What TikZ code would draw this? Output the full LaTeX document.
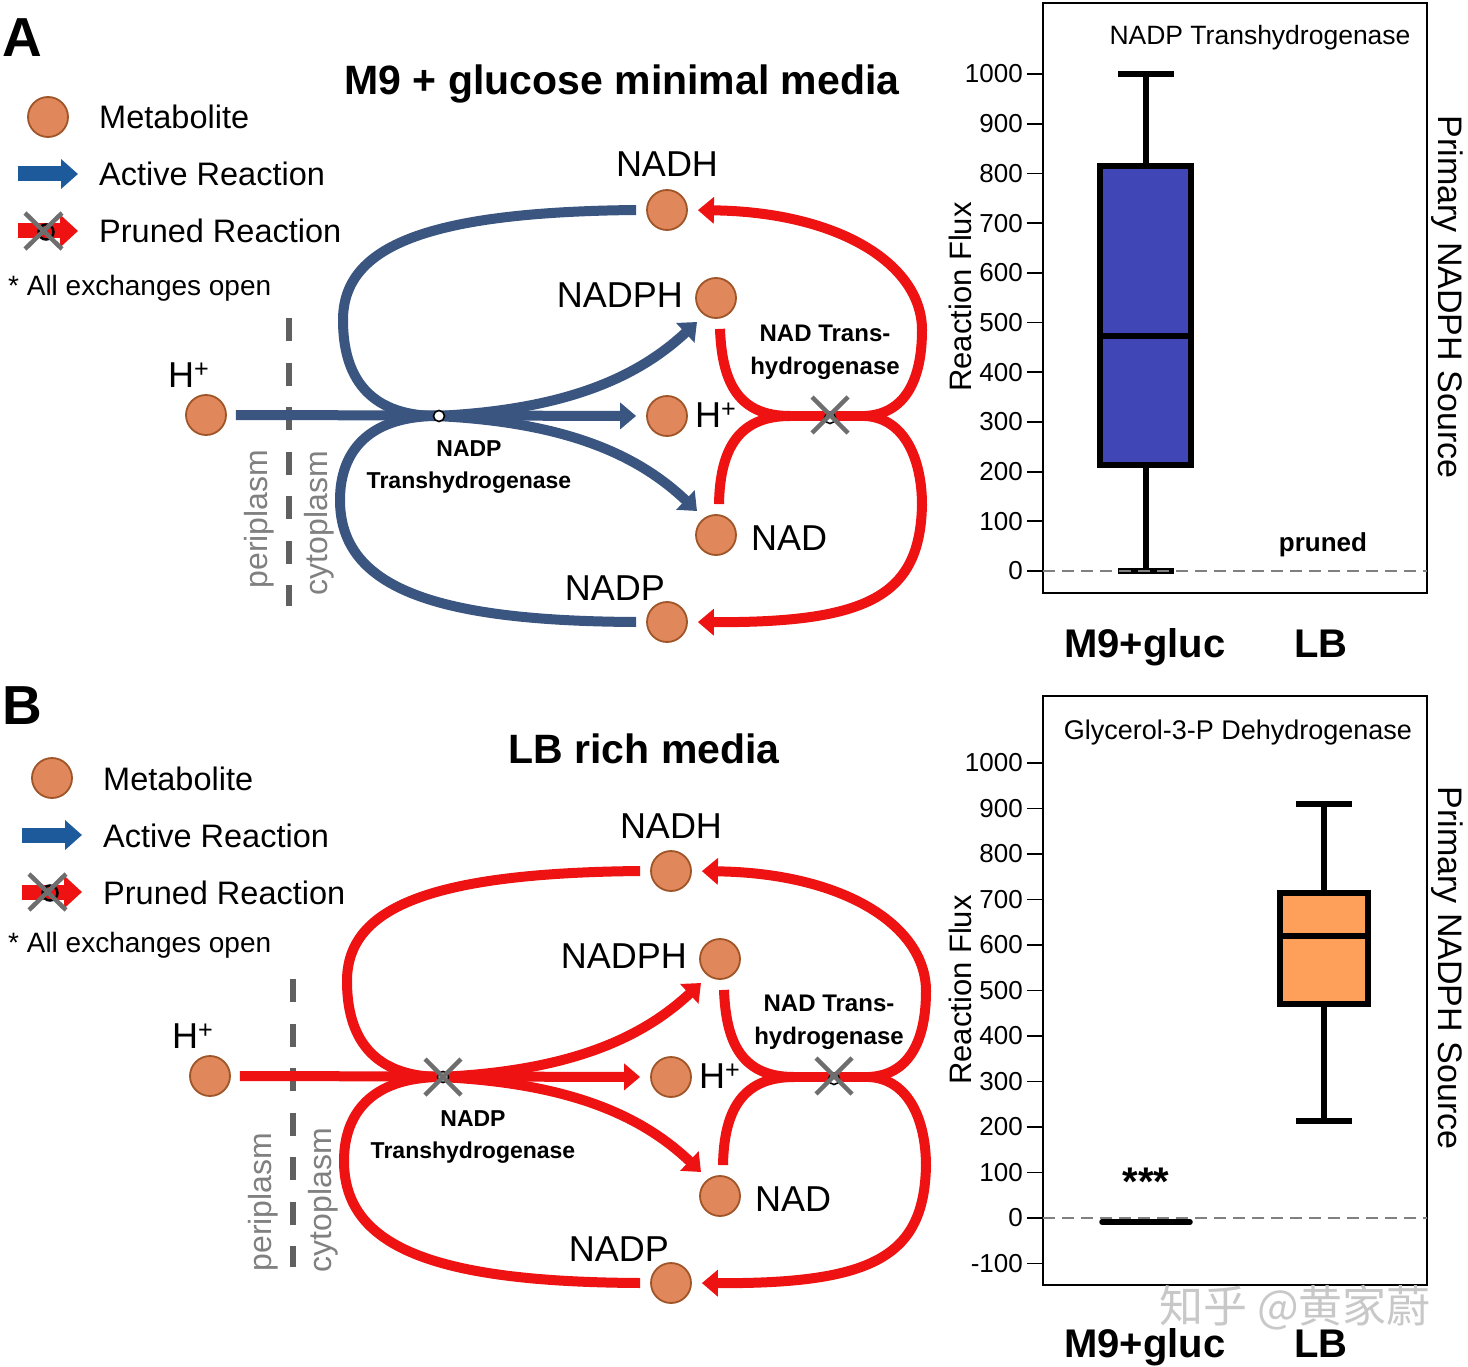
\documentclass[tikz,border=0pt]{standalone}
\usepackage{fontspec}
\setmainfont{Liberation Sans}
\newfontfamily\cjkfont{Noto Sans CJK SC}
\usetikzlibrary{arrows.meta}
\definecolor{metfill}{RGB}{224,135,92}
\definecolor{metdraw}{RGB}{160,85,40}
\definecolor{pathblue}{RGB}{58,86,128}
\definecolor{legblue}{RGB}{28,90,155}
\definecolor{pathred}{RGB}{238,18,18}
\definecolor{xgray}{RGB}{110,110,110}
\definecolor{membgray}{RGB}{96,96,96}
\definecolor{txtgray}{RGB}{128,128,128}
\definecolor{boxblue}{RGB}{64,70,181}
\definecolor{boxorange}{RGB}{255,160,90}
\definecolor{wmgray}{RGB}{200,200,200}
\newcommand{\myfs}[1]{\fontsize{#1}{#1}\selectfont}
\tikzset{
  met/.style={circle,fill=metfill,draw=metdraw,line width=1.8pt,minimum size=40pt,inner sep=0pt},
  rxn/.style={circle,fill=white,draw=black,line width=1.6pt,minimum size=11pt,inner sep=0pt},
  flow/.style={line width=10pt},
  headed/.style={-{Triangle[width=26pt,length=16pt]}},
  prunex/.style={draw=xgray,line width=4.5pt},
  lbl/.style={inner sep=0pt,font=\myfs{36}},
  rlbl/.style={inner sep=0pt,align=center,font=\bfseries\fontsize{24}{33}\selectfont},
  leg/.style={inner sep=0pt,anchor=base west,font=\myfs{32.5}},
  memb/.style={draw=membgray,line width=6pt,dash pattern=on 23pt off 21.5pt},
  sidelbl/.style={inner sep=0pt,text=txtgray,rotate=90,font=\myfs{32}},
  tickmark/.style={line width=1.8pt},
  ticklbl/.style={anchor=east,inner sep=0pt,font=\myfs{26}},
  plotframe/.style={line width=2pt},
  boxline/.style={line width=5.5pt},
  zeroline/.style={draw=txtgray,line width=1.6pt,dash pattern=on 12pt off 7pt},
  axlbl/.style={inner sep=0pt,font=\myfs{31},rotate=90},
  srclbl/.style={inner sep=0pt,font=\myfs{34},rotate=-90},
  catlbl/.style={inner sep=0pt,anchor=base,font=\bfseries\myfs{40}},
}
% legend, in panel A coordinates; #2 = position of the footnote
\newcommand{\legendblock}[2]{%
  \node[met] (#1lm) at (48,117) {};
  \node[leg] (#1lt1) at (99,129) {Metabolite};
  \coordinate (#1la1) at (18,174); \coordinate (#1la2) at (78,174);
  \draw[line width=15pt,legblue,-{Triangle[width=29pt,length=17pt]}] (#1la1) -- (#1la2);
  \node[leg] (#1lt2) at (99,186) {Active Reaction};
  \coordinate (#1lb1) at (18,231); \coordinate (#1lb2) at (78,231);
  \draw[line width=15pt,pathred,-{Triangle[width=32pt,length=18pt]}] (#1lb1) -- (#1lb2);
  \node[circle,draw=black,line width=2.5pt,minimum size=15pt,inner sep=0pt] (#1lc) at (46,232) {};
  \draw[prunex] (25,213) -- (62,249) (25,249) -- (62,213);
  \node[leg] (#1lt3) at (99,243) {Pruned Reaction};
  \node[leg,font=\myfs{28}] (#1lt4) at #2 {* All exchanges open};
}
% pathway, in panel A coordinates
% #1 prefix, #2 colour of NADP transhydrogenase, #3 extra marks,
% #4 dy periplasm, #5 dy cytoplasm, #6 dy reaction labels
\newcommand{\pathway}[6]{%
  \node[met] (#1hl) at (206,415) {};
  \node[lbl,anchor=base west] (#1hlt) at (168,387) {H\textsuperscript{+}};
  \coordinate (#1m1) at (289,318); \coordinate (#1m2) at (289,606);
  \draw[memb] (#1m1) -- (#1m2);
  \node[sidelbl] (#1peri) at (259,519+#4) {periplasm};
  \node[sidelbl] (#1cyto) at (319,523+#5) {cytoplasm};
  \node[met] (#1nadh) at (667,210) {};
  \node[met] (#1nadph) at (716,298) {};
  \node[met] (#1hm) at (667,416) {};
  \node[met] (#1nad) at (716,535) {};
  \node[met] (#1nadp) at (667,622) {};
  \node[lbl,anchor=base] (#1t1) at (667,177) {NADH};
  \node[lbl,anchor=base east] (#1t2) at (683,307) {NADPH};
  \node[lbl,anchor=base west] (#1t3) at (695,427) {H\textsuperscript{+}};
  \node[lbl,anchor=base west] (#1t4) at (751,550) {NAD};
  \node[lbl,anchor=base] (#1t5) at (615,600) {NADP};
  \coordinate (#1j) at (435,416);
  \coordinate (#1tp) at (697,322);
  \coordinate (#1tn) at (697,511);
  \draw[flow,#2,headed,shorten >=10pt] ([xshift=9pt]#1hl.east) -- (#1hm.west);
  \draw[flow,#2] ([xshift=-10pt]#1nadh.west) .. controls (430,212) and (343,245) .. (343,320)
        .. controls (343,376) and (368,415) .. (#1j);
  \draw[flow,#2] (#1j) .. controls (368,417) and (340,452) .. (340,500)
        .. controls (340,590) and (440,621) .. ([xshift=-10pt]#1nadp.west);
  \draw[flow,#2,headed] (#1j) .. controls (570,410) and (640,375) .. (#1tp);
  \draw[flow,#2,headed] (#1j) .. controls (570,422) and (640,457) .. (#1tn);
  \node[rxn] (#1r1) at (439,416) {};
  \node[rlbl,font=\bfseries\fontsize{23}{32}\selectfont] (#1r1t) at (469,467+#6) {NADP\\Transhydrogenase};
  % NAD transhydrogenase (pruned in both media)
  \coordinate (#1jl) at (790,416);
  \coordinate (#1jr) at (865,416);
  \draw[flow,pathred] ([shift={(4,10)}]#1nadph.south) .. controls (722,385) and (740,416) .. (#1jl);
  \draw[flow,pathred] ([shift={(3,-10)}]#1nad.north) .. controls (720,447) and (740,416) .. (#1jl);
  \draw[flow,pathred] ([xshift=-20pt]#1jl) -- ([xshift=12pt]#1jr);
  \draw[flow,pathred,headed,shorten >=10pt] (#1jr) .. controls (905,414) and (922,380) .. (922,330)
        .. controls (922,265) and (840,212) .. (#1nadh.east);
  \draw[flow,pathred,headed,shorten >=10pt] (#1jr) .. controls (905,418) and (922,460) .. (922,505)
        .. controls (920,595) and (870,623) .. (#1nadp.east);
  \node[rxn] (#1r2) at (830,418) {};
  \draw[prunex] (812,397) -- (848,433) (812,433) -- (848,397);
  \node[rlbl] (#1r2t) at (825,352+#6) {NAD Trans-\\hydrogenase};
  #3
}
\begin{document}
\begin{tikzpicture}[x=1pt,y=-1pt]
\useasboundingbox[fill=white] (0,0) rectangle (1468,1367);

% ---------------- Panel A ----------------
\node[font=\bfseries\myfs{55},anchor=base,inner sep=0pt] (letA) at (22,57) {A};
\node[font=\bfseries\myfs{41},anchor=base,inner sep=0pt] (titleA) at (622,95) {M9 + glucose minimal media};
\legendblock{A}{(8,296)}
\pathway{A}{pathblue}{}{0}{0}{0}

% plot A
\draw[plotframe] (1043,3) rectangle (1427,593);
\foreach \v in {0,100,...,1000}{
  \pgfmathsetmacro\yy{571-0.497*\v}
  \draw[tickmark] (1027,\yy) -- (1043,\yy);
  \node[ticklbl] (tA\v) at (1023,\yy) {\v};
}
\draw[boxline] (1146,166) -- (1146,74);
\draw[boxline] (1118,74) -- (1174,74);
\draw[boxline] (1146,465) -- (1146,571);
\draw[boxline] (1118,571) -- (1174,571);
\draw[boxline,fill=boxblue] (1100,166) rectangle (1191,465);
\draw[boxline] (1100,336) -- (1191,336);
\draw[zeroline] (1043,571) -- (1427,571);
\node[inner sep=0pt,anchor=base,font=\myfs{26.5}] (ptA) at (1260,45) {NADP Transhydrogenase};
\node[inner sep=0pt,anchor=base,font=\bfseries\myfs{26}] (prA) at (1323,551) {pruned};
\node[axlbl] (yA) at (960,297) {Reaction Flux};
\node[srclbl] (sA) at (1447,297) {Primary NADPH Source};
\node[catlbl] (cA1) at (1145,657) {M9+gluc};
\node[catlbl] (cA2) at (1321,657) {LB};

% ---------------- Panel B ----------------
\node[font=\bfseries\myfs{55},anchor=base,inner sep=0pt] (letB) at (22,724) {B};
\node[font=\bfseries\myfs{41},anchor=base,inner sep=0pt] (titleB) at (644,763) {LB rich media};
\begin{scope}[shift={(4,661)}]
  \legendblock{B}{(4,291)}
  \pathway{B}{pathred}{\draw[prunex] (421,398) -- (457,434) (421,434) -- (457,398);}{22}{16}{9}
\end{scope}

% plot B
\draw[plotframe] (1043,696) rectangle (1427,1285);
\foreach \v in {-100,0,100,...,1000}{
  \pgfmathsetmacro\yy{1218-0.455*\v}
  \draw[tickmark] (1027,\yy) -- (1043,\yy);
  \node[ticklbl] (tB\v) at (1023,\yy) {\v};
}
\draw[zeroline] (1043,1218) -- (1427,1218);
\draw[boxline] (1324,893) -- (1324,804);
\draw[boxline] (1296,804) -- (1352,804);
\draw[boxline] (1324,1004) -- (1324,1121);
\draw[boxline] (1296,1121) -- (1352,1121);
\draw[boxline,fill=boxorange] (1280,893) rectangle (1368,1004);
\draw[boxline] (1280,936) -- (1368,936);
\draw[boxline,line cap=round] (1102,1222) -- (1190,1222);
\node[inner sep=0pt,anchor=base,font=\bfseries\myfs{40}] (starB) at (1146,1195) {***};
\node[inner sep=0pt,anchor=base,font=\myfs{27}] (ptB) at (1238,739) {Glycerol-3-P Dehydrogenase};
\node[axlbl] (yB) at (960,990) {Reaction Flux};
\node[srclbl] (sB) at (1447,968) {Primary NADPH Source};
\node[catlbl] (cB1) at (1145,1357) {M9+gluc};
\node[catlbl] (cB2) at (1321,1357) {LB};
\node[inner sep=0pt,anchor=base,font=\cjkfont\myfs{44},text=wmgray] (wm) at (1295,1322) {知乎 @黄家蔚};
\end{tikzpicture}
\end{document}
